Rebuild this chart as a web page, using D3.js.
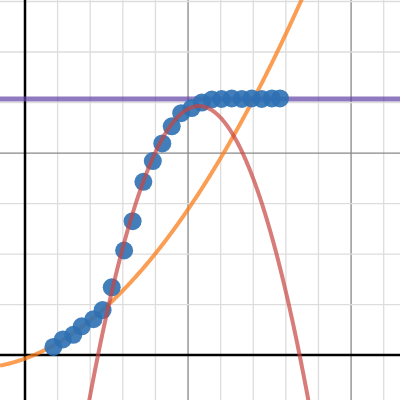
<!DOCTYPE html>
<html><head><meta charset="utf-8">
<script src="https://cdn.jsdelivr.net/npm/d3@7"></script>
<style>body{margin:0;background:#fff}</style></head>
<body><svg id="c" width="400" height="400"></svg>
<script>
const pointsX = [0.87,1.16,1.48,1.74,2.10,2.38,2.66,3.04,3.30,3.63,3.92,4.21,4.50,4.79,5.11,5.42,5.73,6.03,6.34,6.65,6.95,7.26,7.57,7.82];
const pointsY = [0.16,0.31,0.40,0.57,0.71,0.89,1.34,2.07,2.65,3.43,3.84,4.19,4.53,4.79,4.89,5.00,5.06,5.07,5.08,5.07,5.08,5.07,5.08,5.08];
const hLineY = 5.07;
const quadCoef = [-0.07, 0.2365, 0.0709];   // orange: c + b x + a x^2
const parabola = {vx: 5.33, vy: 4.93, a: 0.516}; // red
const xDomain = [-0.767, 11.5], yDomain = [-0.89, 7.03];

const svg = d3.select("#c");
const x = d3.scaleLinear().domain(xDomain).range([0,400]);
const y = d3.scaleLinear().domain(yDomain).range([400,0]);

d3.range(-1,12).forEach(v=>{
  if(v===0) return;
  svg.append("line").attr("x1",x(v)).attr("x2",x(v)).attr("y1",0).attr("y2",400)
    .attr("stroke", v%5===0?"#888":"#ddd").attr("stroke-width",v%5===0?1.3:1.3);
});
d3.range(-1,8).forEach(v=>{
  if(v===0) return;
  svg.append("line").attr("y1",y(v)).attr("y2",y(v)).attr("x1",0).attr("x2",400)
    .attr("stroke", v%4===0?"#888":"#ddd").attr("stroke-width",1.3);
});
svg.append("line").attr("x1",x(0)).attr("x2",x(0)).attr("y1",0).attr("y2",400).attr("stroke","#000").attr("stroke-width",2.5);
svg.append("line").attr("y1",y(0)).attr("y2",y(0)).attr("x1",0).attr("x2",400).attr("stroke","#000").attr("stroke-width",2.5);

const xs = d3.range(xDomain[0], xDomain[1], 0.02);
const line = d3.line().x(d=>x(d[0])).y(d=>y(d[1]));
svg.append("path").datum(xs.map(v=>[v,quadCoef[0]+quadCoef[1]*v+quadCoef[2]*v*v]))
  .attr("d",line).attr("fill","none").attr("stroke","#fa7e19").attr("stroke-width",4).attr("opacity",0.75);
svg.append("line").attr("x1",0).attr("x2",400).attr("y1",y(hLineY)).attr("y2",y(hLineY))
  .attr("stroke","#6042a6").attr("stroke-width",5).attr("opacity",0.7);
svg.selectAll("circle.p").data(pointsX.map((v,i)=>[v,pointsY[i]])).enter().append("circle")
  .attr("cx",d=>x(d[0])).attr("cy",d=>y(d[1])).attr("r",9).attr("fill","#2d70b3").attr("opacity",0.9);
svg.append("path").datum(xs.map(v=>[v,parabola.vy-parabola.a*(v-parabola.vx)**2]))
  .attr("d",line).attr("fill","none").attr("stroke","#c74440").attr("stroke-width",4).attr("opacity",0.7);
</script></body></html>
